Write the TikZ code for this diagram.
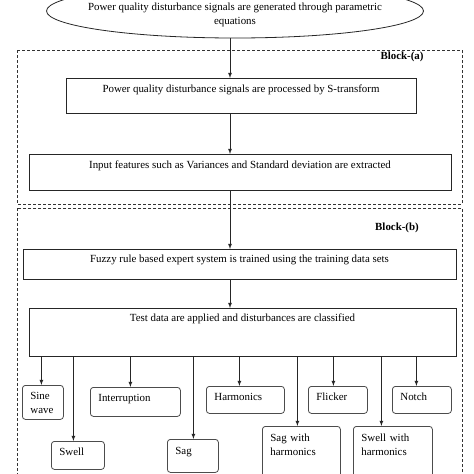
\documentclass[tikz,border=0pt]{standalone}
\usepackage{fontspec}
\setmainfont{Liberation Serif}
\usetikzlibrary{arrows,positioning,shapes}

\begin{document}
\begin{tikzpicture}
  [x=1pt, y=-1pt, font=\fontsize{10.9}{14}\selectfont,
   procbox/.style={draw=black!85, line width=0.8pt, inner sep=0pt, anchor=north, align=center},
   leafbox/.style={draw=black!70, line width=0.8pt, rounded corners=3pt, anchor=north west,
     align=left, inner xsep=8pt, inner ysep=0pt},
   blockframe/.style={draw=black!80, line width=0.5pt, dash pattern=on 3pt off 2pt},
   arr/.style={draw=black!85, line width=0.8pt, -latex}]
  \useasboundingbox (0,0) rectangle (474,474);
  \clip (0,0) rectangle (474,474);

  % dashed blocks
  \draw[blockframe] (17,50) rectangle (462,204);
  \draw[blockframe] (17,208) rectangle (462,490);
  \node[font=\fontsize{10.9}{14}\bfseries] (labela) at (402,57) {Block-(a)};
  \node[font=\fontsize{10.9}{14}\bfseries] (labelb) at (397,228) {Block-(b)};

  % start
  \node[draw=black!85, ellipse, line width=0.8pt, minimum width=377, minimum height=54] (gen) at (235,11) {};
  \node[align=center] (gentext) at (235,15)
    {Power quality disturbance signals are generated through parametric\\equations};

  % main steps
  \node[procbox, minimum width=350, text height=14.5pt, text depth=20.5pt] (proc) at (241,78)
    {Power quality disturbance signals are processed by S-transform};
  \node[procbox, minimum width=422, text height=14.5pt, text depth=21.5pt] (feat) at (240,154)
    {Input features such as Variances and Standard deviation are extracted};
  \node[procbox, minimum width=433, text height=13.5pt, text depth=16.5pt] (fuzzy) at (239.5,249)
    {Fuzzy rule based expert system is trained using the training data sets};
  \node[procbox, minimum width=427, text height=13.5pt, text depth=34.5pt] (test) at (242.5,308)
    {Test data are applied and disturbances are classified};

  \coordinate (axis) at (230,0);
  \draw[arr] (gen.south -| axis) -- (proc.north -| axis);
  \draw[arr] (proc.south -| axis) -- (feat.north -| axis);
  \draw[arr] (feat.south -| axis) -- (fuzzy.north -| axis);
  \draw[arr] (fuzzy.south -| axis) -- (test.north -| axis);

  % classes
  \node[leafbox, text width=25pt, text height=14.5pt, text depth=19.5pt] (sine) at (22,385) {Sine\\wave};
  \node[leafbox, text width=37pt, text height=14.5pt, text depth=13.5pt] (swell) at (51,441) {Swell};
  \node[leafbox, text width=74pt, text height=14.5pt, text depth=14.5pt] (intr) at (90,387) {Interruption};
  \node[leafbox, text width=35pt, text height=15.5pt, text depth=17.5pt] (sag) at (167,439) {Sag};
  \node[leafbox, text width=62pt, text height=14.5pt, text depth=12.5pt] (harm) at (206,386) {Harmonics};
  \node[leafbox, text width=62pt, text height=15.5pt, text depth=48.5pt] (sagh) at (262,426) {Sag with\\harmonics};
  \node[leafbox, text width=43pt, text height=14.5pt, text depth=12.5pt] (flick) at (308,386) {Flicker};
  \node[leafbox, text width=63pt, text height=15.5pt, text depth=48.5pt] (swellh) at (353,426) {Swell with\\harmonics};
  \node[leafbox, text width=43pt, text height=14.5pt, text depth=12.5pt] (notch) at (392,386) {Notch};

  \foreach \n/\dx in {sine/-1.5, swell/-4.5, intr/-5, sag/0.5, harm/-6,
                      sagh/-4, flick/-4.5, swellh/-11.5, notch/-5.5}
    \draw[arr] ([xshift=\dx pt]\n.north |- test.south) -- ([xshift=\dx pt]\n.north);
\end{tikzpicture}
\end{document}
